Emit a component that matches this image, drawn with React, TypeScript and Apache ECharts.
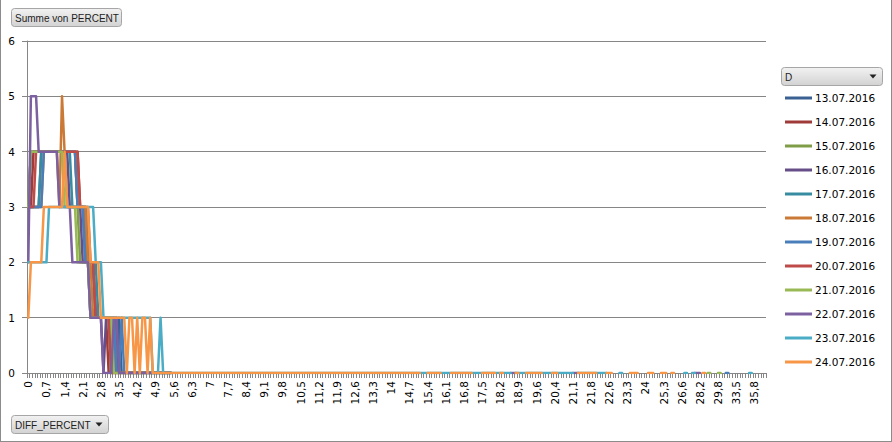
import React, { useEffect, useRef } from "react";
import * as echarts from "echarts";

const CATEGORIES: string[] = (
  "0 0,1 0,2 0,3 0,4 0,5 0,6 0,7 0,8 0,9 " +
  "1 1,1 1,2 1,3 1,4 1,5 1,6 1,7 1,8 1,9 " +
  "2 2,1 2,2 2,3 2,4 2,5 2,6 2,7 2,8 2,9 " +
  "3 3,1 3,2 3,3 3,4 3,5 3,6 3,7 3,8 3,9 " +
  "4 4,1 4,2 4,3 4,4 4,5 4,6 4,7 4,8 4,9 " +
  "5 5,1 5,2 5,3 5,4 5,5 5,6 5,7 5,8 5,9 " +
  "6 6,1 6,2 6,3 6,4 6,5 6,6 6,7 6,8 6,9 " +
  "7 7,1 7,2 7,3 7,4 7,5 7,6 7,7 7,8 7,9 " +
  "8 8,1 8,2 8,3 8,4 8,5 8,6 8,7 8,8 8,9 " +
  "9 9,1 9,2 9,3 9,4 9,5 9,6 9,7 9,8 9,9 " +
  "10 10,1 10,2 10,3 10,4 10,5 10,6 10,7 10,8 10,9 " +
  "11 11,1 11,2 11,3 11,4 11,5 11,6 11,7 11,8 11,9 " +
  "12 12,1 12,2 12,3 12,4 12,5 12,6 12,7 12,8 12,9 " +
  "13 13,1 13,2 13,3 13,4 13,5 13,6 13,7 13,8 13,9 " +
  "14 14,1 14,2 14,3 14,4 14,5 14,6 14,7 14,8 14,9 " +
  "15 15,1 15,2 15,3 15,4 15,5 15,6 15,7 15,8 15,9 " +
  "16 16,1 16,2 16,3 16,4 16,5 16,6 16,7 16,8 16,9 " +
  "17 17,1 17,2 17,3 17,4 17,5 17,6 17,7 17,8 17,9 " +
  "18 18,1 18,2 18,3 18,4 18,5 18,6 18,7 18,8 18,9 " +
  "19 19,1 19,2 19,3 19,4 19,5 19,6 19,7 19,8 19,9 " +
  "20 20,1 20,2 20,4 20,5 20,6 20,7 20,8 20,9 " +
  "21 21,1 21,2 21,3 21,4 21,5 21,6 21,7 21,8 21,9 " +
  "22 22,1 22,2 22,3 22,4 22,6 22,7 22,8 22,9 " +
  "23 23,1 23,2 23,3 23,4 23,5 23,6 23,7 23,8 23,9 " +
  "24 24,1 24,2 24,4 24,6 24,8 25 25,3 25,4 25,6 25,8 " +
  "26 26,1 26,4 26,6 26,8 27 27,2 27,5 27,7 28 28,2 " +
  "28,4 28,6 28,9 29,1 29,3 29,5 29,8 " +
  "30,1 30,6 31 31,5 32,1 32,8 33,5 " +
  "33,7 34 34,3 34,7 35 35,4 35,8 " +
  "36,3 37,1 38,5 41,2"
).split(" ");

const SERIES_NAMES = [
  "13.07.2016", "14.07.2016", "15.07.2016", "16.07.2016",
  "17.07.2016", "18.07.2016", "19.07.2016", "20.07.2016",
  "21.07.2016", "22.07.2016", "23.07.2016", "24.07.2016",
];

const SERIES_COLORS = [
  "#3B6092", "#9E3B38", "#7F9C47", "#664F88",
  "#378CA1", "#CA7A36", "#4A7EBB", "#BE4B48",
  "#98B954", "#7D60A0", "#4BACC6", "#F79646",
];

// values for categories 0 .. 5,5
const HEAD_13 = [3,3,3,3,3,4,4,4,4,4, 4,4,4,4,4,4,4,4,4,3, 3,3,2,2,2,2,1,1,1,1, 1,1,1,0,0,1,0,0,0,0, 0,0,0,0,0,0,0,0,0,0, 0,0,0,0,0,0];
const HEAD_14 = [3,3,4,4,4,4,4,4,4,4, 4,4,4,4,4,4,4,4,4,4, 3,3,3,2,2,2,1,1,1,1, 1,0,0,0,0,0,0,0,0,0, 0,0,0,0,0,0,0,0,0,0, 0,0,0,0,0,0];
const HEAD_15 = [3,4,4,4,4,4,4,4,4,4, 4,4,4,4,4,3,3,3,3,3, 2,2,2,2,1,1,1,1,1,1, 1,1,0,0,0,0,0,0,0,0, 0,0,0,0,0,0,0,0,0,0, 0,0,0,0,0,0];
const HEAD_16 = [3,4,4,4,4,4,4,4,4,4, 4,4,4,4,4,4,3,3,3,3, 3,2,2,2,1,1,1,1,1,0, 1,1,0,0,1,0,0,0,0,0, 0,0,0,0,0,0,0,0,0,0, 0,0,0,0,0,0];
const HEAD_17 = [3,3,3,3,3,4,4,4,4,4, 4,4,4,4,4,4,4,3,3,3, 3,3,3,2,2,2,2,1,1,1, 1,1,1,1,0,0,0,0,0,0, 0,0,0,0,0,0,0,0,0,0, 0,0,0,0,0,0];
const HEAD_18 = [3,3,3,3,3,3,4,4,4,4, 4,4,3,5,4,4,4,4,4,3, 3,3,3,2,2,1,1,1,1,1, 1,1,0,0,0,0,0,0,0,0, 0,0,0,0,0,0,0,0,0,0, 0,0,0,0,0,0];
const HEAD_19 = [3,3,3,3,3,3,4,4,4,4, 4,4,4,4,4,4,4,4,4,3, 3,3,2,2,2,2,1,1,1,1, 1,1,1,1,0,0,1,0,0,0, 0,0,0,0,0,0,0,0,0,0, 0,0,0,0,0,0];
const HEAD_20 = [3,3,3,4,4,4,4,4,4,4, 4,4,4,4,4,4,4,4,4,4, 3,3,3,3,2,2,1,1,1,1, 1,1,0,0,0,0,0,0,0,0, 0,0,0,0,0,0,0,0,0,0, 0,0,0,0,0,0];
const HEAD_21 = [3,4,4,4,4,4,4,4,4,4, 4,4,4,4,3,3,3,3,3,2, 2,2,2,2,1,1,1,1,1,1, 1,1,1,0,0,0,0,0,0,0, 0,0,0,0,0,0,0,0,0,0, 0,0,0,0,0,0];
const HEAD_22 = [2,5,5,5,4,4,4,4,4,4, 4,4,3,3,3,3,3,2,2,2, 2,2,2,2,1,1,1,1,1,0, 0,0,0,1,1,0,0,0,0,0, 0,0,0,0,0,0,0,0,0,0, 0,0,0,0,0,0];
const HEAD_23 = [2,2,2,2,2,2,2,2,3,3, 3,3,3,3,3,3,3,3,3,3, 3,3,3,3,3,3,2,2,2,1, 1,1,1,1,1,1,1,1,1,1, 1,1,1,1,1,1,1,1,0,0, 0,1,0,0,0,0];
const HEAD_24 = [1,2,2,2,2,2,3,3,3,3, 3,3,3,3,4,3,3,3,3,3, 3,3,3,3,2,2,2,2,1,1, 1,1,1,1,1,1,1,1,0,1, 1,0,1,0,1,1,0,1,0,0, 0,0,0,0,0,0];

// index ranges (first, last category index) where a series is 0 beyond the head; elsewhere empty
const ZERO_RUNS_19 = [[269, 270]];
const ZERO_RUNS_21 = [[262, 263], [266, 267]];
const ZERO_RUNS_22 = [[186, 188], [210, 212], [257, 259]];
const ZERO_RUNS_23 = [[56, 186], [188, 210], [212, 223], [228, 229], [253, 254], [256, 257], [278, 279]];
const ZERO_RUNS_24 = [[56, 151], [154, 159], [163, 171], [175, 180], [182, 183], [188, 189], [192, 198], [202, 204], [212, 219], [223, 225], [232, 235], [239, 241], [244, 246], [248, 249], [260, 261]];

const HEADS = [HEAD_13, HEAD_14, HEAD_15, HEAD_16, HEAD_17, HEAD_18, HEAD_19, HEAD_20, HEAD_21, HEAD_22, HEAD_23, HEAD_24];
const RUNS: number[][][] = [[], [], [], [], [], [], ZERO_RUNS_19, [], ZERO_RUNS_21, ZERO_RUNS_22, ZERO_RUNS_23, ZERO_RUNS_24];

const Y_MIN = 0;
const Y_MAX = 6;

function buildData(head: number[], runs: number[][]): (number | null)[] {
  const arr: (number | null)[] = CATEGORIES.map(() => null);
  head.forEach((v, i) => { arr[i] = v; });
  runs.forEach(([a, b]) => { for (let i = a; i <= b; i++) arr[i] = 0; });
  return arr;
}

const AXIS_GRAY = "#868686";
const LABEL_FONT = "'DejaVu Sans', Verdana, sans-serif";
const BTN_FONT = "'Liberation Sans', Arial, sans-serif";

function button(x: number, y: number, w: number, h: number, label: string, arrow: boolean) {
  const children: any[] = [
    {
      type: "rect",
      shape: { x: x + 0.5, y: y + 0.5, width: w, height: h, r: 3 },
      style: {
        fill: new echarts.graphic.LinearGradient(0, 0, 0, 1, [
          { offset: 0, color: "#f2f2f2" },
          { offset: 1, color: "#d2d2d2" },
        ]),
        stroke: "#a6a6a6",
        lineWidth: 1,
      },
    },
    {
      type: "text",
      x: x + 4,
      y: y + h / 2 + 1,
      style: { text: label, fill: "#222", font: `10px ${BTN_FONT}`, verticalAlign: "middle", align: "left" },
    },
  ];
  if (arrow) {
    const ax = x + w - 9;
    const ay = y + h / 2;
    children.push({
      type: "polygon",
      shape: { points: [[ax - 3.5, ay - 1.5], [ax + 3.5, ay - 1.5], [ax, ay + 2.5]] },
      style: { fill: "#222" },
    });
  }
  return { type: "group", children };
}

export default function App() {
  const ref = useRef<HTMLDivElement>(null);
  useEffect(() => {
    if (!ref.current) return;
    const chart = echarts.init(ref.current, undefined, { renderer: "svg" });
    const series = SERIES_NAMES.map((name, k) => ({
      name,
      type: "line",
      data: buildData(HEADS[k], RUNS[k]),
      symbol: "none",
      showSymbol: false,
      connectNulls: false,
      color: SERIES_COLORS[k],
      lineStyle: { width: 2.5, color: SERIES_COLORS[k], cap: "round", join: "round" },
      emphasis: { disabled: true },
      silent: true,
    }));
    chart.setOption({
      animation: false,
      backgroundColor: "#ffffff",
      grid: { left: 27, right: 126, top: 41, bottom: 69, containLabel: false },
      xAxis: {
        type: "category",
        data: CATEGORIES,
        boundaryGap: true,
        axisLine: { show: true, lineStyle: { color: AXIS_GRAY, width: 1 } },
        axisTick: { show: true, interval: 0, length: 5, lineStyle: { color: AXIS_GRAY } },
        axisLabel: {
          interval: 6,
          rotate: 90,
          fontSize: 10.5,
          fontFamily: LABEL_FONT,
          color: "#000",
          margin: 8,
        },
        splitLine: { show: false },
      },
      yAxis: {
        type: "value",
        min: Y_MIN,
        max: Y_MAX,
        interval: 1,
        axisLine: { show: true, lineStyle: { color: AXIS_GRAY, width: 1 } },
        axisTick: { show: true, length: 5, lineStyle: { color: AXIS_GRAY } },
        axisLabel: { fontSize: 10.5, fontFamily: LABEL_FONT, color: "#000", margin: 12 },
        splitLine: { show: true, lineStyle: { color: AXIS_GRAY, width: 1 } },
      },
      legend: {
        orient: "vertical",
        left: 785,
        top: 91,
        padding: 0,
        icon: "rect",
        itemWidth: 27,
        itemHeight: 3,
        itemGap: 10,
        selectedMode: false,
        data: SERIES_NAMES,
        textStyle: { fontSize: 10.5, fontFamily: LABEL_FONT, color: "#000", lineHeight: 14, padding: [0, 0, 0, -2] },
      },
      graphic: [
        { type: "line", shape: { x1: 0.5, y1: 0, x2: 0.5, y2: 441.5 }, style: { stroke: "#8c8c8c", lineWidth: 1 } },
        { type: "line", shape: { x1: 0, y1: 441.5, x2: 892, y2: 441.5 }, style: { stroke: "#8c8c8c", lineWidth: 1 } },
        { type: "line", shape: { x1: 891.5, y1: 0, x2: 891.5, y2: 442 }, style: { stroke: "#8c8c8c", lineWidth: 1 } },
        button(11, 8, 110, 18, "Summe von PERCENT", false),
        button(11, 415, 97, 18, "DIFF_PERCENT", true),
        button(781, 67, 101, 18, "D", true),
      ],
      series,
    });
    return () => chart.dispose();
  }, []);
  return (
    <div
      ref={ref}
      style={{ position: "fixed", left: 0, top: 0, width: 892, height: 442, background: "#fff" }}
    />
  );
}
